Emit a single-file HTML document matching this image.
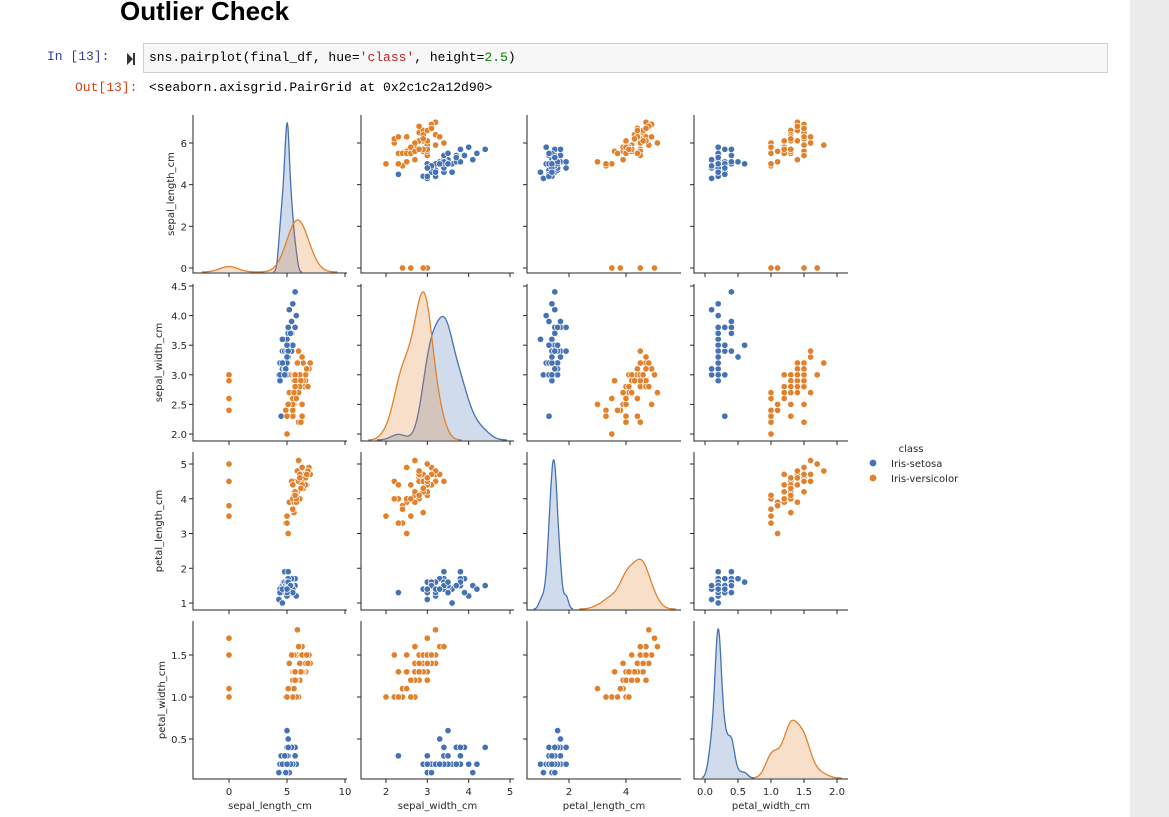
<!DOCTYPE html>
<html><head><meta charset="utf-8">
<style>
body{margin:0;width:1169px;height:817px;background:#fff;overflow:hidden;position:relative;font-family:"Liberation Sans","DejaVu Sans",sans-serif;}
.abs{position:absolute;}
.mono{font-family:"Liberation Mono","DejaVu Sans Mono",monospace;font-size:13px;white-space:pre;}
</style></head><body>
<div class="abs" style="left:1130px;top:0;width:39px;height:817px;background:#ebebeb"></div>
<div class="abs" style="left:120px;top:-4px;font-size:26px;font-weight:bold;color:#000">Outlier Check</div>
<div class="abs mono" style="left:47px;top:49px;color:#303f9f">In [13]:</div>
<div class="abs" style="left:127px;top:52px;width:9px;height:12px;">
<svg width="9" height="12"><polygon points="0,0 6,6 0,12" fill="#333"/><rect x="6" y="0" width="2" height="12" fill="#333"/></svg></div>
<div class="abs mono" style="left:143px;top:43px;width:958px;height:28px;background:#f7f7f7;border:1px solid #cfcfcf;padding-left:5px;line-height:28px;color:#000">sns.pairplot(final_df, hue=<span style="color:#ba2121">'class'</span>, height=<span style="color:#008000">2.5</span>)</div>
<div class="abs mono" style="left:75px;top:80px;color:#d84315">Out[13]:</div>
<div class="abs mono" style="left:149px;top:80px;color:#000">&lt;seaborn.axisgrid.PairGrid at 0x2c1c2a12d90&gt;</div>

<svg id="chart" class="abs" style="left:0;top:0" width="1169" height="817"></svg>

<script>
const featureNames = ["sepal_length_cm","sepal_width_cm","petal_length_cm","petal_width_cm"];
const classNames = ["Iris-setosa","Iris-versicolor"];
const setosaSepalLength = [5.1,4.9,4.7,4.6,5.0,5.4,4.6,5.0,4.4,4.9,5.4,4.8,4.8,4.3,5.8,5.7,5.4,5.1,5.7,5.1,5.4,5.1,4.6,5.1,4.8,5.0,5.0,5.2,5.2,4.7,4.8,5.4,5.2,5.5,4.9,5.0,5.5,4.9,4.4,5.1,5.0,4.5,4.4,5.0,5.1,4.8,5.1,4.6,5.3,5.0];
const setosaSepalWidth = [3.5,3.0,3.2,3.1,3.6,3.9,3.4,3.4,2.9,3.1,3.7,3.4,3.0,3.0,4.0,4.4,3.9,3.5,3.8,3.8,3.4,3.7,3.6,3.3,3.4,3.0,3.4,3.5,3.4,3.2,3.1,3.4,4.1,4.2,3.1,3.2,3.5,3.1,3.0,3.4,3.5,2.3,3.2,3.5,3.8,3.0,3.8,3.2,3.7,3.3];
const setosaPetalLength = [1.4,1.4,1.3,1.5,1.4,1.7,1.4,1.5,1.4,1.5,1.5,1.6,1.4,1.1,1.2,1.5,1.3,1.4,1.7,1.5,1.7,1.5,1.0,1.7,1.9,1.6,1.6,1.5,1.4,1.6,1.6,1.5,1.5,1.4,1.5,1.2,1.3,1.5,1.3,1.5,1.3,1.3,1.3,1.6,1.9,1.4,1.6,1.4,1.5,1.4];
const setosaPetalWidth = [0.2,0.2,0.2,0.2,0.2,0.4,0.3,0.2,0.2,0.1,0.2,0.2,0.1,0.1,0.2,0.4,0.4,0.3,0.3,0.3,0.2,0.4,0.2,0.5,0.2,0.2,0.4,0.2,0.2,0.2,0.2,0.4,0.1,0.2,0.1,0.2,0.2,0.1,0.2,0.2,0.3,0.3,0.2,0.6,0.4,0.3,0.2,0.2,0.2,0.2];
const versicolorSepalLength = [7.0,6.4,6.9,5.5,6.5,5.7,6.3,4.9,6.6,5.2,5.0,5.9,6.0,6.1,5.6,6.7,5.6,5.8,6.2,5.6,5.9,6.1,6.3,6.1,6.4,6.6,6.8,0,0,0,0,5.5,5.8,6.0,5.4,6.0,6.7,6.3,5.6,5.5,5.5,6.1,5.8,5.0,5.6,5.7,5.7,6.2,5.1,5.7];
const versicolorSepalWidth = [3.2,3.2,3.1,2.3,2.8,2.8,3.3,2.4,2.9,2.7,2.0,3.0,2.2,2.9,2.9,3.1,3.0,2.7,2.2,2.5,3.2,2.8,2.5,2.8,2.9,3.0,2.8,3.0,2.9,2.6,2.4,2.4,2.7,2.7,3.0,3.4,3.1,2.3,3.0,2.5,2.6,3.0,2.6,2.3,2.7,3.0,2.9,2.9,2.5,2.8];
const versicolorPetalLength = [4.7,4.5,4.9,4.0,4.6,4.5,4.7,3.3,4.6,3.9,3.5,4.2,4.0,4.7,3.6,4.4,4.5,4.1,4.5,3.9,4.8,4.0,4.9,4.7,4.3,4.4,4.8,5.0,4.5,3.5,3.8,3.7,3.9,5.1,4.5,4.5,4.7,4.4,4.1,4.0,4.4,4.6,4.0,3.3,4.2,4.2,4.2,4.3,3.0,4.1];
const versicolorPetalWidth = [1.4,1.5,1.5,1.3,1.5,1.3,1.6,1.0,1.3,1.4,1.0,1.5,1.0,1.4,1.3,1.4,1.5,1.0,1.5,1.1,1.8,1.3,1.5,1.2,1.3,1.4,1.4,1.7,1.5,1.0,1.1,1.0,1.2,1.6,1.5,1.6,1.5,1.3,1.3,1.3,1.2,1.4,1.2,1.0,1.3,1.2,1.3,1.3,1.1,1.3];
const xTickLabels = [["0","5","10"],["2","3","4","5"],["2","4"],["0.0","0.5","1.0","1.5","2.0"]];
const yTickLabels = [["0","2","4","6"],["2.0","2.5","3.0","3.5","4.0","4.5"],["1","2","3","4","5"],["0.5","1.0","1.5"]];

const setosaData = [setosaSepalLength,setosaSepalWidth,setosaPetalLength,setosaPetalWidth];
const versicolorData = [versicolorSepalLength,versicolorSepalWidth,versicolorPetalLength,versicolorPetalWidth];
const colors = ["#4472b4","#e1812c"];
const NS = "http://www.w3.org/2000/svg";
const svg = document.getElementById("chart");

const colL = [193,361,527,694], colR = [347,514,681,848];
const rowT = [115,284,452,621], rowB = [273,441,610,779];
const xCal = [[0,229,10,345],[2,386,5,510],[2,569,4,626],[0,705,2,837]];
const yCal = [[0,268,6,143],[2,434,4.5,286],[1,603,5,464],[0.5,739,1.5,655]];
function xScale(c,v){const k=xCal[c];return k[1]+(v-k[0])*(k[3]-k[1])/(k[2]-k[0]);}
function yScale(r,v){const k=yCal[r];return k[1]+(v-k[0])*(k[3]-k[1])/(k[2]-k[0]);}

function mk(tag,attrs,parent){const e=document.createElementNS(NS,tag);for(const a in attrs)e.setAttribute(a,attrs[a]);(parent||svg).appendChild(e);return e;}

function kde(data){
  const n=data.length;const m=data.reduce((a,b)=>a+b,0)/n;
  const sd=Math.sqrt(data.reduce((a,b)=>a+(b-m)*(b-m),0)/(n-1));
  const bw=sd*Math.pow(n,-0.2);
  const lo=Math.min(...data)-3*bw, hi=Math.max(...data)+3*bw;
  const pts=[];
  for(let i=0;i<=200;i++){const x=lo+(hi-lo)*i/200;let s=0;for(const d of data){const z=(x-d)/bw;s+=Math.exp(-0.5*z*z);}pts.push([x,0.5*s/(n*bw*Math.sqrt(2*Math.PI))]);}
  return pts;
}

for(let r=0;r<4;r++){
  for(let c=0;c<4;c++){
    const g=mk("g",{});
    
    
    if(r===c){
      const curves=[kde(setosaData[c]),kde(versicolorData[c])];
      const mx=Math.max(...curves.flat().map(p=>p[1]));
      const h=rowB[r]-rowT[r];
      const base=rowB[r]-1, top=rowT[r]+0.05*h;
      curves.forEach((cv,k)=>{
        const line=cv.map(p=>xScale(c,p[0]).toFixed(1)+","+(base-(p[1]/mx)*(base-top)).toFixed(1));
        const area=mk("polygon",{points:xScale(c,cv[0][0]).toFixed(1)+","+base+" "+line.join(" ")+" "+xScale(c,cv[cv.length-1][0]).toFixed(1)+","+base,fill:colors[k],"fill-opacity":0.25,stroke:"none"},g);
        
        
        const pl=mk("polyline",{points:line.join(" "),fill:"none",stroke:colors[k],"stroke-width":1.3},g);
        
        
      });
    } else {
      [setosaData,versicolorData].forEach((ds,k)=>{
        for(let i=0;i<ds[c].length;i++){
          const pt=mk("circle",{cx:xScale(c,ds[c][i]).toFixed(1),cy:yScale(r,ds[r][i]).toFixed(1),r:3.2,fill:colors[k],stroke:"#fff","stroke-width":0.7},g);
          
          
        }
      });
    }
    const sp=mk("path",{d:`M${colL[c]},${rowT[r]}V${rowB[r]}H${colR[c]}`,fill:"none",stroke:"#262626","stroke-width":1},g);
    
    
    xTickLabels[c].forEach(t=>{
      const x=xScale(c,parseFloat(t));
      mk("line",{x1:x,x2:x,y1:rowB[r],y2:rowB[r]+4,stroke:"#262626"},g);
      if(r===3){const tx=mk("text",{x:x,y:rowB[r]+16,"text-anchor":"middle","font-size":10,fill:"#262626","font-family":"DejaVu Sans, sans-serif"},g);tx.textContent=t;
        
        }
    });
    yTickLabels[r].forEach(t=>{
      const y=yScale(r,parseFloat(t));
      mk("line",{x1:colL[c]-4,x2:colL[c],y1:y,y2:y,stroke:"#262626"},g);
      if(c===0){const tx=mk("text",{x:colL[c]-6,y:y+4,"text-anchor":"end","font-size":10,fill:"#262626","font-family":"DejaVu Sans, sans-serif"},g);tx.textContent=t;
        
        }
    });
  }
}
featureNames.forEach((f,i)=>{
  const xt=mk("text",{x:(colL[i]+colR[i])/2,y:809,"text-anchor":"middle","font-size":10,fill:"#262626","font-family":"DejaVu Sans, sans-serif"});
  xt.textContent=f;
  
  
  const cy=(rowT[i]+rowB[i])/2, cx=i===0?174:(i===3?165:162);
  const yt=mk("text",{x:cx,y:cy,"text-anchor":"middle","font-size":10,fill:"#262626","font-family":"DejaVu Sans, sans-serif",transform:`rotate(-90 ${cx} ${cy})`});
  yt.textContent=f;
  
  
});
const lg=mk("g",{});


const lt=mk("text",{x:911,y:452,"text-anchor":"middle","font-size":10,fill:"#262626","font-family":"DejaVu Sans, sans-serif"},lg);
lt.textContent="class";
classNames.forEach((n,k)=>{
  const y=463+k*15;
  const m=mk("circle",{cx:873,cy:y,r:3.4,fill:colors[k]},lg);
  
  
  const t=mk("text",{x:891,y:y+4,"font-size":10,fill:"#262626","font-family":"DejaVu Sans, sans-serif"},lg);
  t.textContent=n;
  
  
});
</script>
</body></html>
